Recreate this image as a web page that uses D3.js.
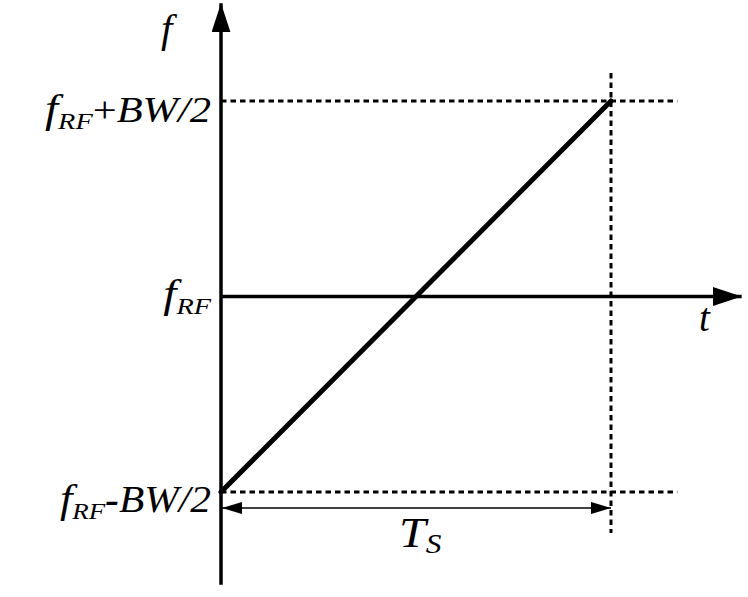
<!DOCTYPE html>
<html>
<head>
<meta charset="utf-8">
<script src="https://cdn.jsdelivr.net/npm/d3@7"></script>
<style>
  body { margin: 0; background: #fff; }
</style>
</head>
<body>
<script>
//////////////////////////////////////////////////////////////////////////////
// Data: time in units of Ts, frequency in units of BW/2 around fRF

var chirpT = [0, 1];           // sweep start / end time
var chirpF = [-1, 1];          // sweep start / end frequency
var levels = [1, 0, -1];       // fRF+BW/2, fRF, fRF-BW/2
var levelMain = ["f", "f", "f"];
var levelSub = ["RF", "RF", "RF"];
var levelSign = ["+", "", "-"];
var levelRest = ["BW/2", "", "BW/2"];
var axisT = [0, 1.335];        // extent of the t axis
var axisF = [-1.475, 1.5];     // extent of the f axis
var guideT = 1.17;             // where the dotted level lines stop
var guideF = [1.143, -1.21];   // extent of the dotted line at Ts
var spanF = -1.082;            // level of the Ts dimension arrow

//////////////////////////////////////////////////////////////////////////////

var width = 748, height = 597;
var serif = "Liberation Serif";

var xScale = d3.scaleLinear().domain([0, 1]).range([221, 611]);
var yScale = d3.scaleLinear().domain([-1, 1]).range([492, 101]);

var svg = d3.select("body").append("svg")
    .attr("width", width)
    .attr("height", height);

var defs = svg.append("defs");
function marker(id, w, h, orient) {
    defs.append("marker")
        .attr("id", id)
        .attr("viewBox", "0 0 " + w + " " + h)
        .attr("refX", w).attr("refY", h / 2)
        .attr("markerWidth", w).attr("markerHeight", h)
        .attr("markerUnits", "userSpaceOnUse")
        .attr("orient", orient)
        .append("path")
        .attr("d", "M0,0 L" + w + "," + (h / 2) + " L0," + h + " Z")
        .attr("fill", "#000");
}
marker("bigArrow", 29, 19, "auto");
marker("smallArrow", 20, 12, "auto-start-reverse");

// dotted guide lines
svg.append("g").selectAll("line")
    .data([levels[0], levels[2]])
    .enter().append("line")
    .attr("x1", xScale(0)).attr("x2", xScale(guideT))
    .attr("y1", yScale).attr("y2", yScale)
    .attr("stroke", "#000").attr("stroke-width", 3)
    .attr("stroke-dasharray", "5.5,4");

svg.append("line")
    .attr("x1", xScale(chirpT[1])).attr("x2", xScale(chirpT[1]))
    .attr("y1", yScale(guideF[0])).attr("y2", yScale(guideF[1]))
    .attr("stroke", "#000").attr("stroke-width", 3)
    .attr("stroke-dasharray", "5.5,4");

// axes
svg.append("line")
    .attr("x1", xScale(0)).attr("x2", xScale(0))
    .attr("y1", yScale(axisF[0])).attr("y2", yScale(axisF[1]))
    .attr("stroke", "#000").attr("stroke-width", 3.5)
    .attr("marker-end", "url(#bigArrow)");

svg.append("line")
    .attr("x1", xScale(axisT[0])).attr("x2", xScale(axisT[1]))
    .attr("y1", yScale(0)).attr("y2", yScale(0))
    .attr("stroke", "#000").attr("stroke-width", 3.5)
    .attr("marker-end", "url(#bigArrow)");

// chirp
svg.append("line")
    .attr("x1", xScale(chirpT[0])).attr("y1", yScale(chirpF[0]))
    .attr("x2", xScale(chirpT[1])).attr("y2", yScale(chirpF[1]))
    .attr("stroke", "#000").attr("stroke-width", 5)
    .attr("stroke-linecap", "round");

// Ts dimension arrow
svg.append("line")
    .attr("x1", xScale(chirpT[0]) + 1).attr("x2", xScale(chirpT[1]))
    .attr("y1", yScale(spanF)).attr("y2", yScale(spanF))
    .attr("stroke", "#000").attr("stroke-width", 1.5)
    .attr("marker-start", "url(#smallArrow)")
    .attr("marker-end", "url(#smallArrow)");

// level labels (the original type is a little wider than Times)
var labelDy = [21, 10, 20];
var labelSize = [36, 36, 37];
var labelStretch = [1.18, 1.18, 1.12];

var lab = svg.append("g").selectAll("g")
    .data(levels)
    .enter().append("g")
    .attr("transform", function(d, i) {
        return "translate(211," + (yScale(d) + labelDy[i]) + ") scale(" + labelStretch[i] + ",1)";
    })
    .append("text")
    .attr("text-anchor", "end")
    .attr("font-family", serif)
    .attr("font-style", "italic")
    .attr("font-size", function(d, i) { return labelSize[i]; });

lab.append("tspan")
    .attr("font-size", 40)
    .text(function(d, i) { return levelMain[i]; });
lab.append("tspan")
    .attr("dy", 7)
    .attr("font-size", 24)
    .text(function(d, i) { return levelSub[i]; });
lab.append("tspan")
    .attr("dy", -7)
    .attr("font-style", function(d, i) { return levelSign[i] === "+" ? "normal" : "italic"; })
    .attr("font-weight", function(d, i) { return levelSign[i] === "-" ? "bold" : "normal"; })
    .text(function(d, i) { return levelSign[i]; });
lab.append("tspan")
    .text(function(d, i) { return levelRest[i]; });

// axis names
svg.append("text")
    .attr("x", 161).attr("y", 42)
    .attr("font-family", serif).attr("font-style", "italic")
    .attr("font-size", 41)
    .text("f");

svg.append("text")
    .attr("x", 699).attr("y", 331)
    .attr("font-family", serif).attr("font-style", "italic")
    .attr("font-size", 39)
    .text("t");

var ts = svg.append("g")
    .attr("transform", "translate(399,547) scale(1.12,1)")
    .append("text")
    .attr("font-family", serif).attr("font-style", "italic")
    .attr("font-size", 43);
ts.append("tspan").text("T");
ts.append("tspan")
    .attr("dy", 6)
    .attr("font-size", 28)
    .text("S");
</script>
</body>
</html>
